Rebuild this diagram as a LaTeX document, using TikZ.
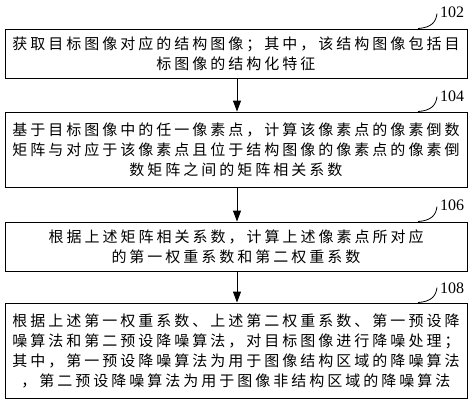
\documentclass[tikz,border=0pt]{standalone}
\usepackage{fontspec}
\newfontfamily\cjk[LetterSpace=20]{Noto Sans CJK SC}
\newfontfamily\numfont{Liberation Serif}
\usetikzlibrary{arrows.meta,calc}
\begin{document}
\begin{tikzpicture}[x=1pt,y=-1pt,
  stepbox/.style={draw,line width=0.9pt,minimum width=462pt,inner sep=0pt,align=center,
    font=\cjk\fontsize{15}{20}\selectfont},
  flow/.style={line width=0.9pt,-{Triangle[length=11pt,width=8pt]}},
  lbl/.style={font=\numfont\fontsize{16}{16}\selectfont,inner sep=0pt,anchor=west},
  lead/.style={line width=0.8pt}]
\useasboundingbox (0,0) rectangle (474,402);
\node[stepbox,minimum height=49pt] (b1) at (236,53.5) {获取目标图像对应的结构图像；其中，该结构图像包括目\\标图像的结构化特征};
\node[stepbox,minimum height=75pt] (b2) at (236,149.5) {基于目标图像中的任一像素点，计算该像素点的像素倒数\\矩阵与对应于该像素点且位于结构图像的像素点的像素倒\\数矩阵之间的矩阵相关系数};
\node[stepbox,minimum height=49pt] (b3) at (236,246.5) {根据上述矩阵相关系数，计算上述像素点所对应\\的第一权重系数和第二权重系数};
\node[stepbox,minimum height=95pt] (b4) at (236,350.5) {根据上述第一权重系数、上述第二权重系数、第一预设降\\噪算法和第二预设降噪算法，对目标图像进行降噪处理；\\其中，第一预设降噪算法为用于图像结构区域的降噪算法\\，第二预设降噪算法为用于图像非结构区域的降噪算法};
\draw[flow] (b1.south -| 237,0) -- (b2.north -| 237,0);
\draw[flow] (b2.south -| 237,0) -- (b3.north -| 237,0);
\draw[flow] (b3.south -| 237,0) -- (b4.north -| 237,0);
\node[lbl] (l1) at (440,12) {102};
\node[lbl] (l2) at (440,96) {104};
\node[lbl] (l3) at (440,205) {106};
\node[lbl] (l4) at (440,288) {108};
\foreach \b/\l in {b1/l1,b2/l2,b3/l3,b4/l4}{
  \coordinate (s\b) at (\b.north -| 418,0);
  \draw[lead] (s\b) .. controls ($(s\b)+(14,-1)$) and ($(s\b)+(18,-7)$) .. ($(s\b)+(19,-15)$);
}
\end{tikzpicture}
\end{document}
